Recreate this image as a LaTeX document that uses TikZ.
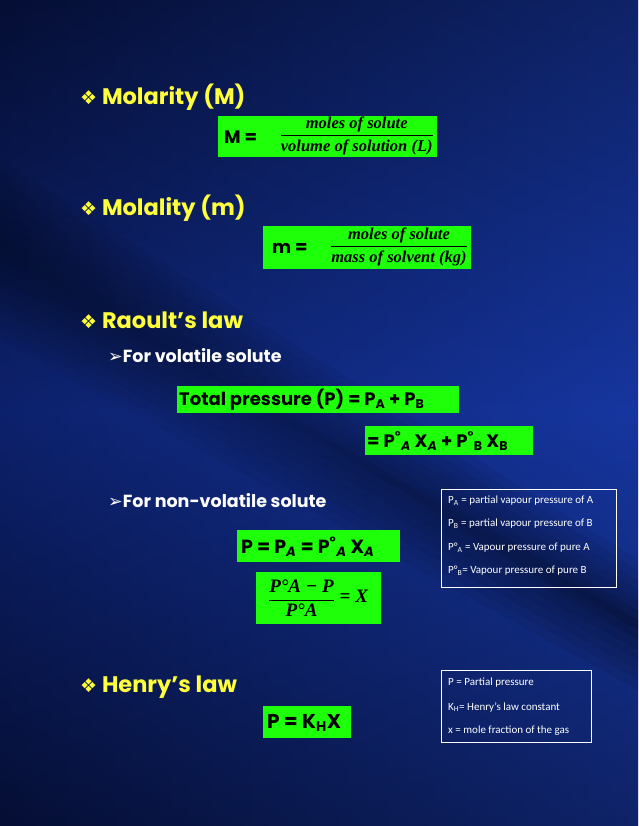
\documentclass[tikz,border=0pt]{standalone}
\usepackage{fontspec}
\setmainfont{Poppins}
\newfontfamily\dvfont{DejaVu Sans}
\newfontfamily\carlfont{Carlito}
\newfontfamily\serfont{Liberation Serif}
\newcommand\pdeg[1]{P\textsuperscript{°}\textsubscript{#1}}
\begin{document}
\begin{tikzpicture}[x=1pt,y=-1pt]
\definecolor{ylw}{HTML}{FFFF3C}
\definecolor{grn}{HTML}{1EFF0A}
\definecolor{bgA}{HTML}{081650}
\definecolor{bgB}{HTML}{1636A0}
\tikzset{
 head/.style={anchor=west,text=ylw,font=\fontsize{22.5}{25}\selectfont\bfseries,inner sep=0},
 sub/.style={anchor=west,text=white,font=\fontsize{17.5}{20}\selectfont\bfseries,inner sep=0},
 itxt/.style={anchor=west,text=white,font=\carlfont\fontsize{11}{13}\selectfont,inner sep=0},
 frac/.style={font=\serfont\fontsize{16.5}{18}\selectfont\bfseries\itshape,inner sep=0,anchor=east},
 gtxt/.style={anchor=west,text=black,inner sep=0,font=\fontsize{18}{20}\selectfont\bfseries}
}
\useasboundingbox (0,0) rectangle (638,826);
\shade[left color=bgA,right color=bgB] (0,0) rectangle (638,826);
\foreach \o in {0,10,...,80}
  \fill[black,opacity=0.09] (0,160+\o) -- (0,340-\o) -- (638,690-\o) -- (638,560+\o) -- cycle;
\shade[top color=black,bottom color=black,middle color=bgB,opacity=0.35] (0,0) rectangle (638,826);
% headings
\node[head] (h1) at (80,97) {{\dvfont\fontsize{19}{22}\selectfont❖} Molarity (M)};
\node[head] (h2) at (80,208) {{\dvfont\fontsize{19}{22}\selectfont❖} Molality (m)};
\node[head] (h3) at (80,320) {{\dvfont\fontsize{19}{22}\selectfont❖} Raoult’s law};
\node[head] (h4) at (80,687) {{\dvfont\fontsize{19}{22}\selectfont❖} Henry’s law};
\node[sub] (s1) at (108,356) {{\dvfont➢}For volatile solute};
\node[sub] (s2) at (108,501) {{\dvfont➢}For non-volatile solute};
% green boxes
\fill[grn] (218,116) rectangle (437,157);
\node[gtxt] (m1) at (224,137) {M =};
\node[frac] (f1) at (434,136) {$\vcenter{\hbox{$\displaystyle\frac{\hbox{moles of solute}}{\hbox{volume of solution (L)}}$}}$};
\fill[grn] (263,226) rectangle (471,269);
\node[gtxt] (m2) at (272,248) {m =};
\node[frac] (f2) at (468,247) {$\vcenter{\hbox{$\displaystyle\frac{\hbox{moles of solute}}{\hbox{mass of solvent (kg)}}$}}$};
\fill[grn] (177,386) rectangle (459,413);
\node[gtxt] (t1) at (179,400) {Total pressure (P) = P\textsubscript{A} + P\textsubscript{B}};
\fill[grn] (365,426) rectangle (533,455);
\node[gtxt] (t2) at (367,441) {= \pdeg{\itshape A} X\textsubscript{\itshape A} + \pdeg{B} X\textsubscript{B}};
\fill[grn] (237,530) rectangle (400,562);
\node[gtxt,font=\fontsize{19}{22}\selectfont\bfseries] (t3) at (241,547) {P = P\textsubscript{\itshape A} = \pdeg{\itshape A} X\textsubscript{\itshape A}};
\fill[grn] (256,572) rectangle (381,624);
\node[font=\serfont\fontsize{19}{21}\selectfont\bfseries\itshape,inner sep=0] (t4) at (318,598) {$\vcenter{\hbox{$\displaystyle\frac{\hbox{P°A − P}}{\hbox{P°A}}$}}$ = X};
\fill[grn] (263,706) rectangle (351,738);
\node[gtxt,font=\fontsize{20}{22}\selectfont\bfseries] (t5) at (267,723) {P = K\textsubscript{H}X};
% info boxes
\draw[white,line width=0.8pt] (441,489) rectangle (616,587);
\node[itxt] (i1) at (448,501) {P\textsubscript{A} = partial vapour pressure of A};
\node[itxt] (i2) at (448,524) {P\textsubscript{B} = partial vapour pressure of B};
\node[itxt] (i3) at (448,548) {P°\textsubscript{A} = Vapour pressure of pure A};
\node[itxt] (i4) at (448,571) {P°\textsubscript{B}= Vapour pressure of pure B};
\draw[white,line width=0.8pt] (441,670) rectangle (591,742);
\node[itxt] (j1) at (448,683) {P = Partial pressure};
\node[itxt] (j2) at (448,707) {K\textsubscript{H}= Henry’s law constant};
\node[itxt] (j3) at (448,731) {x = mole fraction of the gas};
\end{tikzpicture}
\end{document}
